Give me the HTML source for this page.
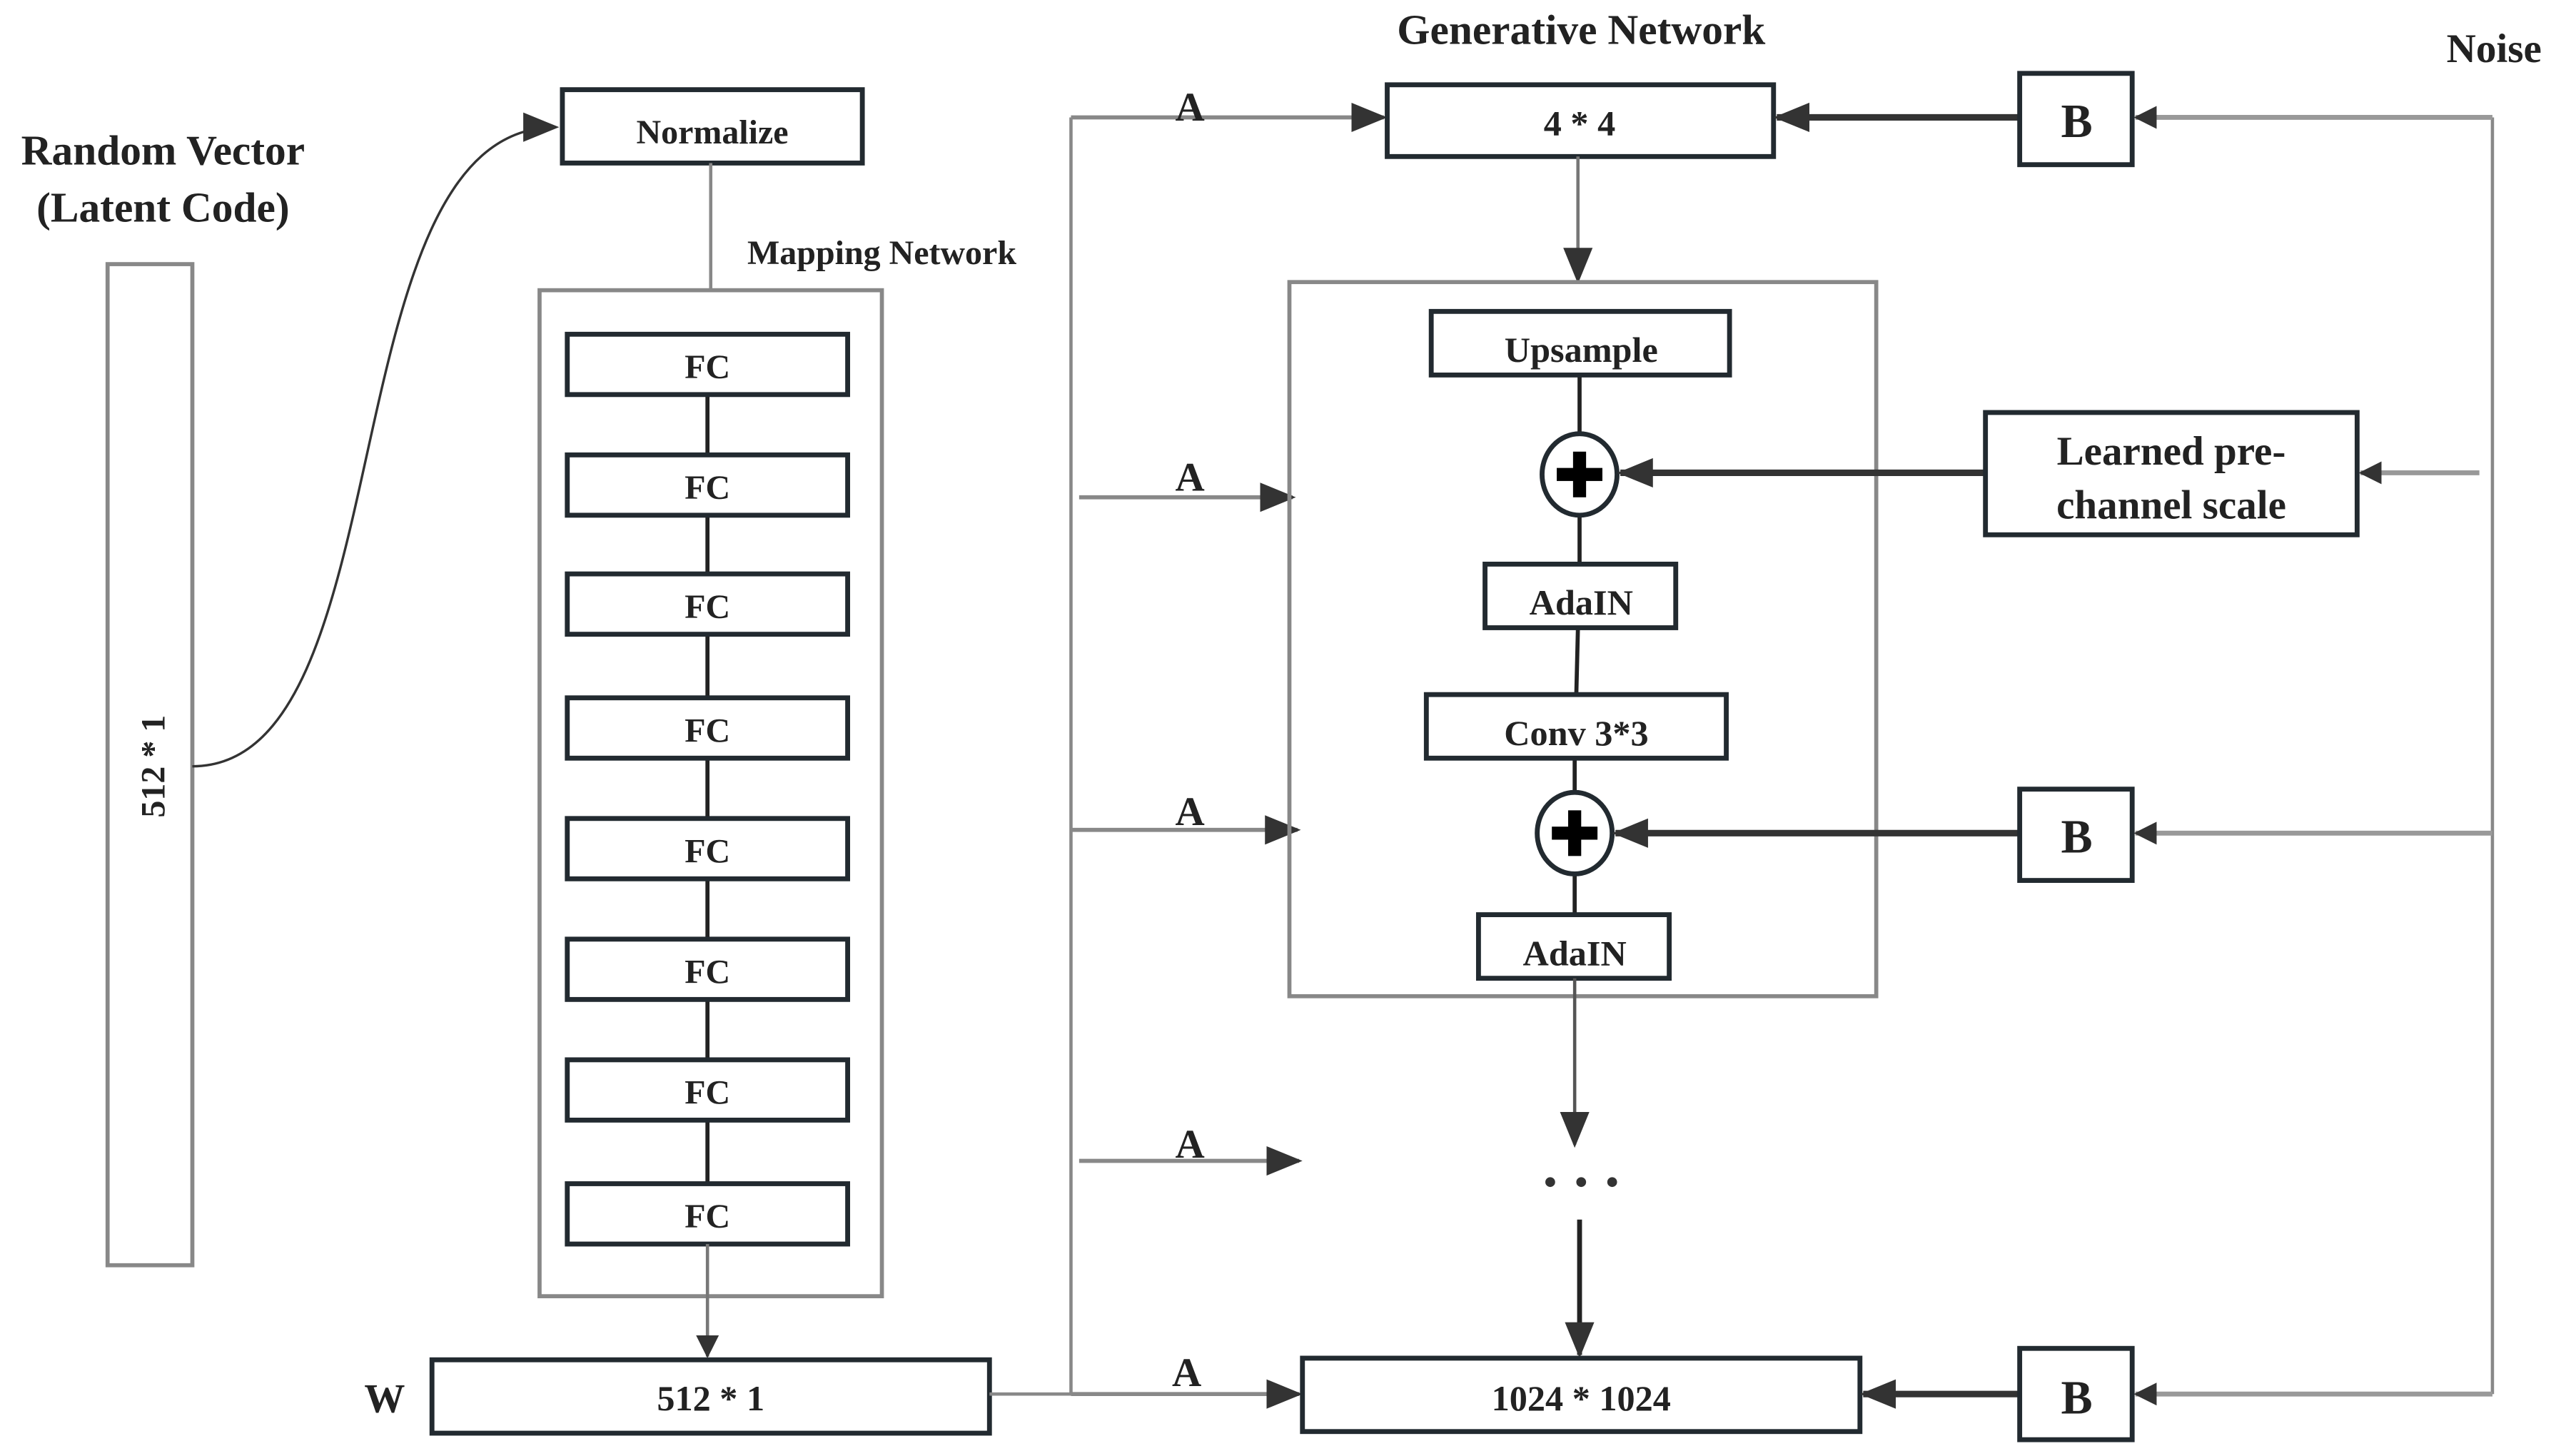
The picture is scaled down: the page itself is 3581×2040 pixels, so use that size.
<!DOCTYPE html>
<html><head><meta charset="utf-8"><style>
html,body{margin:0;padding:0;background:#fff;}
svg{display:block;}
text{font-family:"Liberation Serif",serif;font-weight:bold;fill:#222;}
</style></head><body>
<svg width="3581" height="2040" viewBox="0 0 1568 893" preserveAspectRatio="none" xmlns="http://www.w3.org/2000/svg">
<defs>
<marker id="ah" markerWidth="14" markerHeight="14" refX="13" refY="7" orient="auto" markerUnits="userSpaceOnUse" viewBox="0 0 14 14">
<path d="M0,0 L14,7 L0,14 z" fill="#333"/></marker>
<marker id="ahL" markerWidth="22" markerHeight="22" refX="20" refY="11" orient="auto" markerUnits="userSpaceOnUse" viewBox="0 0 22 22">
<path d="M0,2 L22,11 L0,20 z" fill="#333"/></marker>
</defs>
<g font-size="26">
<text x="100" y="101" text-anchor="middle">Random Vector</text>
<text x="100" y="136" text-anchor="middle">(Latent Code)</text>
</g>
<rect x="66" y="162" width="52" height="614" fill="none" stroke="#888" stroke-width="2.5"/>
<text x="0" y="0" font-size="21" text-anchor="middle" transform="translate(101,470) rotate(-90)">512 * 1</text>
<path d="M118,470 C250,470 200,78 341,78" fill="none" stroke="#333" stroke-width="1.5" marker-end="url(#ahL)"/>

<rect x="345" y="55" width="184" height="45" fill="#fff" stroke="#222a30" stroke-width="3"/>
<text x="437" y="88" font-size="21" text-anchor="middle">Normalize</text>
<line x1="436" y1="100" x2="436" y2="178" stroke="#888" stroke-width="2"/>
<text x="541" y="162" font-size="21" text-anchor="middle">Mapping Network</text>
<rect x="331" y="178" width="210" height="617" fill="none" stroke="#888" stroke-width="2.5"/>
<g stroke="#222" stroke-width="2.5">
<line x1="434" y1="242" x2="434" y2="279"/><line x1="434" y1="316" x2="434" y2="352"/>
<line x1="434" y1="389" x2="434" y2="428"/><line x1="434" y1="465" x2="434" y2="502"/>
<line x1="434" y1="539" x2="434" y2="576"/><line x1="434" y1="613" x2="434" y2="650"/>
<line x1="434" y1="687" x2="434" y2="726"/>
</g>
<g fill="#fff" stroke="#222a30" stroke-width="3">
<rect x="348" y="205" width="172" height="37"/><rect x="348" y="279" width="172" height="37"/>
<rect x="348" y="352" width="172" height="37"/><rect x="348" y="428" width="172" height="37"/>
<rect x="348" y="502" width="172" height="37"/><rect x="348" y="576" width="172" height="37"/>
<rect x="348" y="650" width="172" height="37"/><rect x="348" y="726" width="172" height="37"/>
</g>
<g font-size="21" text-anchor="middle">
<text x="434" y="232">FC</text><text x="434" y="306">FC</text><text x="434" y="379">FC</text>
<text x="434" y="455">FC</text><text x="434" y="529">FC</text><text x="434" y="603">FC</text>
<text x="434" y="677">FC</text><text x="434" y="753">FC</text>
</g>
<line x1="434" y1="763" x2="434" y2="832" stroke="#777" stroke-width="2" marker-end="url(#ah)"/>

<text x="236" y="866" font-size="25" text-anchor="middle">W</text>
<rect x="265" y="834" width="342" height="45" fill="#fff" stroke="#222a30" stroke-width="3"/>
<text x="436" y="865" font-size="22" text-anchor="middle">512 * 1</text>

<g stroke="#888" stroke-width="2" fill="none">
<line x1="607" y1="855" x2="657" y2="855"/>
<line x1="657" y1="72" x2="657" y2="855"/>
</g>
<g stroke="#888" stroke-width="2.5">
<line x1="657" y1="72" x2="849" y2="72" marker-end="url(#ahL)"/>
<line x1="662" y1="305" x2="793" y2="305" marker-end="url(#ahL)"/>
<line x1="657" y1="509" x2="796" y2="509" marker-end="url(#ahL)"/>
<line x1="662" y1="712" x2="797" y2="712" marker-end="url(#ahL)"/>
<line x1="657" y1="855" x2="797" y2="855" marker-end="url(#ahL)"/>
</g>
<g font-size="25" text-anchor="middle">
<text x="730" y="74">A</text><text x="730" y="301">A</text><text x="730" y="506">A</text>
<text x="730" y="710">A</text><text x="728" y="850">A</text>
</g>

<text x="970" y="27" font-size="26" text-anchor="middle">Generative Network</text>
<rect x="851" y="52" width="237" height="44" fill="#fff" stroke="#222a30" stroke-width="3"/>
<text x="969" y="83" font-size="22" text-anchor="middle">4 * 4</text>
<line x1="968" y1="96" x2="968" y2="172" stroke="#777" stroke-width="2" marker-end="url(#ahL)"/>

<rect x="791" y="173" width="360" height="438" fill="none" stroke="#888" stroke-width="2.5"/>
<g stroke="#222" stroke-width="2.5">
<line x1="969" y1="230" x2="969" y2="267"/><line x1="969" y1="315" x2="969" y2="346"/>
<line x1="968" y1="385" x2="967" y2="426"/><line x1="966" y1="465" x2="966" y2="487"/>
<line x1="966" y1="535" x2="966" y2="561"/>
</g>
<g fill="#fff" stroke="#222a30" stroke-width="3">
<rect x="878" y="191" width="183" height="39"/>
<rect x="911" y="346" width="117" height="39"/>
<rect x="875" y="426" width="184" height="39"/>
<rect x="907" y="561" width="117" height="39"/>
</g>
<g font-size="22" text-anchor="middle">
<text x="970" y="222">Upsample</text><text x="970" y="377">AdaIN</text>
<text x="967" y="457">Conv 3*3</text><text x="966" y="592">AdaIN</text>
</g>
<g fill="#fff" stroke="#222a30" stroke-width="3">
<ellipse cx="969" cy="291" rx="23" ry="25"/><ellipse cx="966" cy="511" rx="23" ry="25"/>
</g>
<g fill="#000">
<rect x="955" y="287" width="28" height="8"/><rect x="965" y="277" width="8" height="28"/>
<rect x="952" y="507" width="28" height="8"/><rect x="962" y="497" width="8" height="28"/>
</g>

<line x1="966" y1="600" x2="966" y2="702" stroke="#555" stroke-width="2" marker-end="url(#ahL)"/>
<g fill="#333"><circle cx="951" cy="725" r="3"/><circle cx="970" cy="725" r="3"/><circle cx="989" cy="725" r="3"/></g>
<line x1="969" y1="748" x2="969" y2="831" stroke="#222" stroke-width="3" marker-end="url(#ahL)"/>
<rect x="799" y="833" width="342" height="45" fill="#fff" stroke="#222a30" stroke-width="3"/>
<text x="970" y="865" font-size="22" text-anchor="middle">1024 * 1024</text>

<text x="1530" y="38" font-size="25" text-anchor="middle">Noise</text>
<line x1="1529" y1="72" x2="1529" y2="855" stroke="#888" stroke-width="2"/>
<g stroke="#999" stroke-width="3">
<line x1="1529" y1="72" x2="1310" y2="72" marker-end="url(#ah)"/>
<line x1="1521" y1="290" x2="1448" y2="290" marker-end="url(#ah)"/>
<line x1="1529" y1="511" x2="1310" y2="511" marker-end="url(#ah)"/>
<line x1="1529" y1="855" x2="1310" y2="855" marker-end="url(#ah)"/>
</g>
<g stroke="#333" stroke-width="4">
<line x1="1239" y1="72" x2="1090" y2="72" marker-end="url(#ahL)"/>
<line x1="1218" y1="290" x2="994" y2="290" marker-end="url(#ahL)"/>
<line x1="1239" y1="511" x2="991" y2="511" marker-end="url(#ahL)"/>
<line x1="1239" y1="855" x2="1143" y2="855" marker-end="url(#ahL)"/>
</g>
<g fill="#fff" stroke="#222a30" stroke-width="3">
<rect x="1239" y="45" width="69" height="56"/>
<rect x="1239" y="484" width="69" height="56"/>
<rect x="1239" y="827" width="69" height="56"/>
<rect x="1218" y="253" width="228" height="75"/>
</g>
<g font-size="29" text-anchor="middle">
<text x="1274" y="84">B</text><text x="1274" y="523">B</text><text x="1274" y="867">B</text>
</g>
<g font-size="25" text-anchor="middle">
<text x="1332" y="285">Learned pre-</text><text x="1332" y="318">channel scale</text>
</g>
</svg>
</body></html>
